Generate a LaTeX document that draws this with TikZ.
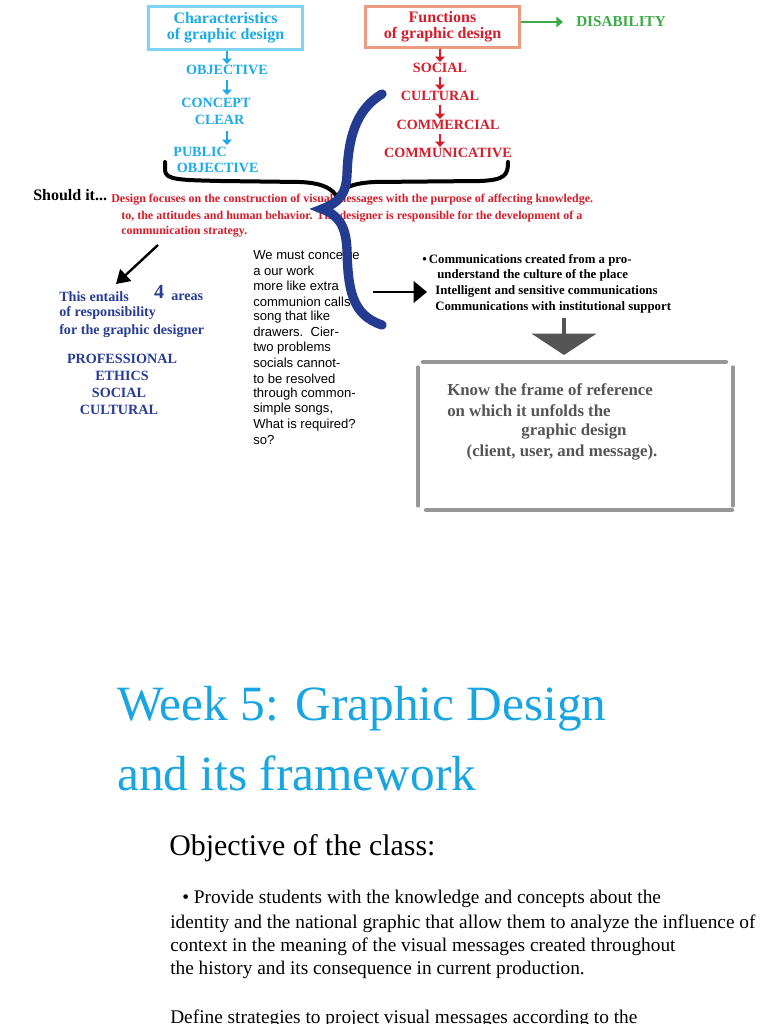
\documentclass[tikz,border=0pt]{standalone}
\usepackage{fontspec}
\setmainfont{Liberation Serif}
\setsansfont{Liberation Sans}
\usetikzlibrary{arrows.meta}
\definecolor{cblue}{RGB}{30,170,230}
\definecolor{lblue}{RGB}{125,212,245}
\definecolor{cred}{RGB}{210,30,45}
\definecolor{salmon}{RGB}{235,155,130}
\definecolor{cgreen}{RGB}{60,170,70}
\definecolor{navy}{RGB}{40,60,150}
\definecolor{brace}{RGB}{35,60,145}
\definecolor{gbox}{RGB}{150,150,150}
\definecolor{gtext}{RGB}{85,85,85}
\definecolor{ttl}{RGB}{25,165,225}
\newcommand{\fs}[1]{\fontsize{#1}{#1}\selectfont}
\tikzset{
 x=0.75pt,y=-0.75pt,
 lab/.style={inner sep=0pt,font=\bfseries\fs{10.6}},
 bl/.style={lab,text=cblue},
 rd/.style={lab,text=cred},
 nv/.style={lab,text=navy,font=\bfseries\fs{10.6},align=left},
 barr/.style={draw=cblue,-{Triangle[width=7pt,length=4pt]},line width=1pt},
 rarr/.style={draw=cred,-{Triangle[width=7pt,length=4pt]},line width=1pt},
 sans/.style={inner sep=0pt,anchor=west,font=\sffamily\fs{9.8}},
 bul/.style={inner sep=0pt,anchor=west,font=\bfseries\fs{9.6}},
 gt/.style={inner sep=0pt,text=gtext,font=\bfseries\fs{12.6}}
}
\begin{document}
\begin{tikzpicture}
\useasboundingbox[fill=white] (0,0) rectangle (768,1024);
% boxes
\node[draw=lblue,line width=2.2pt,minimum width=116pt,minimum height=32pt,text=cblue,font=\bfseries\fs{12},align=center,inner sep=0pt] (cb) at (225.5,28) {Characteristics\\of graphic design};
\node[draw=salmon,line width=2.2pt,minimum width=116pt,minimum height=31pt,text=cred,font=\bfseries\fs{12},align=center,inner sep=0pt] (fb) at (442.5,27) {Functions\\of graphic design};
\node[lab,text=cgreen,anchor=west,font=\bfseries\fs{11.4}] (dis) at (576,22) {DISABILITY};
\coordinate (dg) at (563,22);
\draw[draw=cgreen,line width=1pt,-{Triangle[width=8pt,length=5pt]}] (fb.east|-dg) -- (dg);
% blue chain
\node[bl] (o1) at (227,70) {OBJECTIVE};
\node[bl,align=center] (cc) at (216,111) {CONCEPT\\[2pt]\ \ CLEAR};
\node[bl,align=left] (po) at (216,160) {PUBLIC\\[2pt]\ OBJECTIVE};
\draw[barr] (227,51) -- (227,64);
\draw[barr] (227,80) -- (227,95);
\draw[barr] (227,131) -- (227,145);
% red chain
\node[rd] (s1) at (440,68) {SOCIAL};
\node[rd] (s2) at (440,96) {CULTURAL};
\node[rd] (s3) at (448,125) {COMMERCIAL};
\node[rd] (s4) at (448,153) {COMMUNICATIVE};
\draw[rarr] (440,49) -- (440,62);
\draw[rarr] (440,77) -- (440,90);
\draw[rarr] (440,105) -- (440,119);
\draw[rarr] (440,134) -- (440,147);
% black brace
\draw[line width=3pt,line cap=round] (165,162) -- (165,170) .. controls (165,180) and (180,180) .. (220,181) -- (300,182) .. controls (325,183) and (333,190) .. (337,197)
 .. controls (341,190) and (349,183) .. (375,182) -- (480,181) .. controls (505,180) and (508,175) .. (508,162);
% red paragraph
\node[lab,anchor=west,font=\bfseries\fs{12}] (sh) at (33,195) {Should it...};
\node[rd,anchor=west,font=\bfseries\fs{9}] (p1) at (111,200) {Design focuses on the construction of visual messages with the purpose of affecting knowledge.};
\node[rd,anchor=west,font=\bfseries\fs{9}] (p2) at (121,217) {to, the attitudes and human behavior. The designer is responsible for the development of a};
\node[rd,anchor=west,font=\bfseries\fs{9}] (p3) at (121,232) {communication strategy.};
% left
\coordinate (a1) at (158,245);
\coordinate (a2) at (116,284);
\draw[line width=1.8pt,-{Triangle[width=12pt,length=10pt]}] (a1) -- (a2);
\node[nv,anchor=west] (t1) at (59,297) {This entails};
\node[inner sep=0pt,text=navy,font=\bfseries\fs{15}] (four) at (159,292) {4};
\node[nv,anchor=west] (t2) at (171,297) {areas};
\node[nv,anchor=west] (t3) at (59,313) {of responsibility};
\node[nv,anchor=west] (t4) at (59,331) {for the graphic designer};
\node[nv] (q1) at (122,359) {PROFESSIONAL};
\node[nv] (q2) at (122,376) {ETHICS};
\node[nv] (q3) at (119,393) {SOCIAL};
\node[nv] (q4) at (119,410) {CULTURAL};
% sans column
\foreach \t [count=\i from 0] in {We must conceive,a our work,more like extra,communion calls,song that like,drawers.\ \ Cier-,two problems,socials cannot-,to be resolved,through common-,{simple songs,},What is required?,so?}
  \node[sans] (w\i) at (253,255+15.45*\i) {\t};
% blue brace
\draw[brace,line width=7pt,line cap=round] (382,94) .. controls (355,110) and (348,140) .. (347,175) .. controls (346,195) and (338,203) .. (322,209)
 .. controls (338,215) and (346,225) .. (347,250) .. controls (348,290) and (352,315) .. (382,325);
% right
\coordinate (r1) at (373,292);
\coordinate (r2) at (427,292);
\draw[line width=2pt,-{Triangle[width=16pt,length=10pt]}] (r1) -- (r2);
\node[bul] (b1) at (422,260) {\textbullet\,Communications created from a pro-};
\node[bul] (b2) at (437,275) {understand the culture of the place};
\node[bul] (b3) at (435,291) {Intelligent and sensitive communications};
\node[bul] (b4) at (435,307) {Communications with institutional support};
\coordinate (g1) at (564,318);
\coordinate (g2) at (564,355);
\draw[line width=3.5pt,draw=gtext,-{Triangle[width=48pt,length=16pt]}] (g1) -- (g2);
% grey box
\draw[gbox,line width=3.2pt,line cap=round] (423,362) -- (726,362);
\draw[gbox,line width=3.2pt,line cap=round] (426,510) -- (732,510);
\draw[gbox,line width=2.4pt,line cap=round] (418,367) -- (418,506);
\draw[gbox,line width=2.4pt,line cap=round] (733,367) -- (733,506);
\node[gt,anchor=west] (k1) at (447,390) {Know the frame of reference};
\node[gt,anchor=west] (k2) at (447,411) {on which it unfolds the};
\node[gt] (k3) at (574,432) {graphic design};
\node[gt] (k4) at (562,453) {(client, user, and message).};
% lower text
\node[inner sep=0pt,anchor=west,text=ttl,font=\fs{37}] (h1) at (117,709) {Week 5: Graphic Design};
\node[inner sep=0pt,anchor=west,text=ttl,font=\fs{37}] (h2) at (117,773) {and its framework};
\node[inner sep=0pt,anchor=west,font=\fs{22.4}] (ob) at (169,848) {Objective of the class:};
\node[inner sep=0pt,anchor=west,font=\fs{14.5}] (l0) at (182,899) {\textbullet\ Provide students with the knowledge and concepts about the};
\foreach \t/\yy in {{identity and the national graphic that allow them to analyze the influence of}/924,{context in the meaning of the visual messages created throughout}/947,{the history and its consequence in current production.}/970,{Define strategies to project visual messages according to the}/1019}
  \node[inner sep=0pt,anchor=west,font=\fs{14.5}] at (170,\yy) {\t};
\end{tikzpicture}
\end{document}
